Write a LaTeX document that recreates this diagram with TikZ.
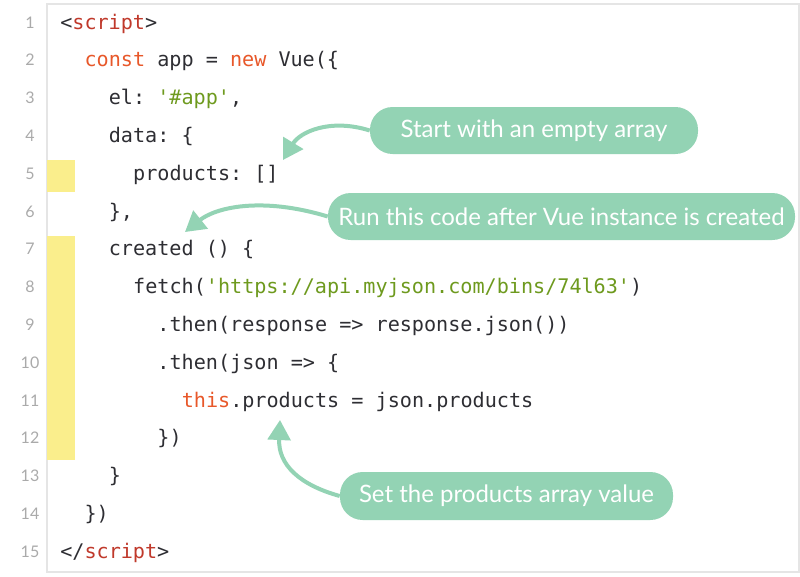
\documentclass[tikz,border=0pt]{standalone}
\usepackage{fontspec}
\setmainfont{Lato}
\setmonofont{DejaVu Sans Mono}
\usetikzlibrary{arrows.meta}
\definecolor{kw}{HTML}{E8582A}
\definecolor{tg}{HTML}{C0392B}
\definecolor{st}{HTML}{6E9A1E}
\definecolor{tx}{HTML}{2E2E33}
\definecolor{ln}{HTML}{AAAAAA}
\definecolor{gr}{HTML}{93D3B4}
\definecolor{yl}{HTML}{FAEE8C}
\begin{document}
\begin{tikzpicture}[x=0.75pt,y=-0.75pt,
  code/.style={anchor=base west,inner sep=0,font=\ttfamily\fontsize{15.1}{17}\selectfont,text=tx},
  num/.style={anchor=base,inner sep=0,font=\fontsize{12}{14}\selectfont,text=ln},
  bubble/.style={fill=gr,rounded corners=17pt,text=white,font=\fontsize{18}{20}\selectfont,inner sep=0},
  arr/.style={gr,line width=3pt,-{Triangle[width=17pt,length=15pt]}}]
\useasboundingbox (0,0) rectangle (800,576);
\fill[white] (0,0) rectangle (800,576);
\draw[gray!20,line width=1pt] (47,4) rectangle (799,572);
\fill[yl] (47,160) rectangle (75,192);
\fill[yl] (47,236) rectangle (75,460);
\foreach \i in {1,...,15} {\node[num] (n\i) at (30,{23+(\i-1)*37.8+5}) {\i};}
\def\cx#1{60+#1*12.15}
\def\cy#1{23+(#1-1)*37.8+6}
\node[code] (l1) at ({\cx0},{\cy1}) {<\textcolor{tg}{script}>};
\node[code] (l2) at ({\cx2},{\cy2}) {\textcolor{kw}{const} app = \textcolor{kw}{new} Vue(\{};
\node[code] (l3) at ({\cx4},{\cy3}) {el: \textcolor{st}{'\#app'},};
\node[code] (l4) at ({\cx4},{\cy4}) {data: \{};
\node[code] (l5) at ({\cx6},{\cy5}) {products: []};
\node[code] (l6) at ({\cx4},{\cy6}) {\},};
\node[code] (l7) at ({\cx4},{\cy7}) {created () \{};
\node[code] (l8) at ({\cx6},{\cy8}) {fetch(\textcolor{st}{'https://api.myjson.com/bins/74l63'})};
\node[code] (l9) at ({\cx8},{\cy9}) {.then(response => response.json())};
\node[code] (l10) at ({\cx8},{\cy{10}}) {.then(json => \{};
\node[code] (l11) at ({\cx{10}},{\cy{11}}) {\textcolor{kw}{this}.products = json.products};
\node[code] (l12) at ({\cx8},{\cy{12}}) {\})};
\node[code] (l13) at ({\cx4},{\cy{13}}) {\}};
\node[code] (l14) at ({\cx2},{\cy{14}}) {\})};
\node[code] (l15) at ({\cx0},{\cy{15}}) {</\textcolor{tg}{script}>};
\node[bubble,minimum width=328*0.75pt,minimum height=47*0.75pt] (b1) at (534,130.5) {Start with an empty array};
\node[bubble,minimum width=467*0.75pt,minimum height=47*0.75pt] (b2) at (561.5,216.5) {Run this code after Vue instance is created};
\node[bubble,minimum width=333*0.75pt,minimum height=48*0.75pt] (b3) at (506.5,496) {Set the products array value};
\coordinate (t1) at (283,160);
\coordinate (t2) at (185,232);
\coordinate (t3) at (280,420);
\draw[arr] (b1.west) .. controls (330,118) and (300,132) .. (t1);
\draw[arr] (b2.west) .. controls (260,196) and (215,208) .. (t2);
\draw[arr] (b3.west) .. controls (300,485) and (278,465) .. (t3);
\end{tikzpicture}
\end{document}
